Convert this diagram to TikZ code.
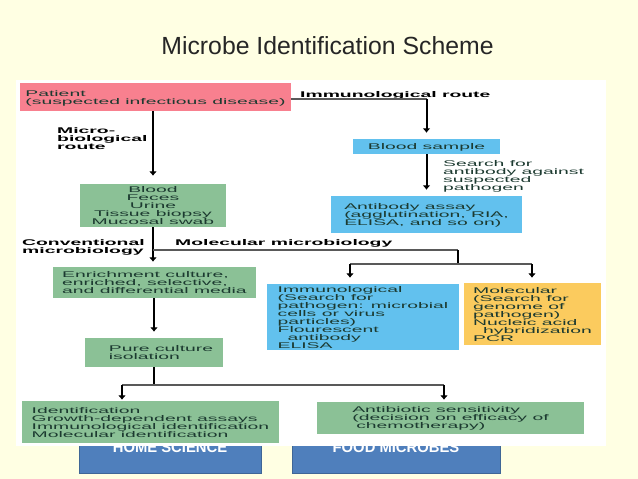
\documentclass[tikz,border=0pt]{standalone}
\usepackage{fontspec}
\setmainfont{Liberation Sans}
\newfontfamily\widefont[FakeStretch=2.33]{Liberation Sans}
\usetikzlibrary{arrows.meta}
\definecolor{slidecream}{HTML}{FFFFE3}
\definecolor{pinkfill}{HTML}{F8808F}
\definecolor{greenfill}{HTML}{8BC196}
\definecolor{bluefill}{HTML}{62C1EE}
\definecolor{yellowfill}{HTML}{FBCB5E}
\definecolor{slideblue}{HTML}{4F7FBC}
\definecolor{inktext}{HTML}{1C3A30}
\tikzset{
    boxnode/.style={inner sep=0pt,align=left,text=inktext,font=\widefont\fontsize{8.3}{8}\selectfont},
    pinkbox/.style={boxnode,fill=pinkfill},
    greenbox/.style={boxnode,fill=greenfill},
    bluebox/.style={boxnode,fill=bluefill},
    yellowbox/.style={boxnode,fill=yellowfill},
    tagnode/.style={inner sep=0pt,align=left,text=black,font=\widefont\bfseries\fontsize{8.3}{8}\selectfont},
    notenode/.style={inner sep=0pt,align=left,text=inktext,font=\widefont\fontsize{8.3}{8}\selectfont},
    slidebox/.style={fill=slideblue,draw=slideblue!80!black,line width=.8pt,inner sep=0pt},
    slidetext/.style={inner sep=0pt,text=white,font=\bfseries\fontsize{14.8}{15}\selectfont},
    flowline/.style={line width=2pt,black},
    flowarrow/.style={flowline,-{Latex[width=8pt,length=4.5pt]}},
    branchline/.style={line width=1.3pt,black!65},
}
\begin{document}
\begin{tikzpicture}[x=1pt,y=-1pt]
    \useasboundingbox (0,0) rectangle (638,479);
    \fill[slidecream] (0,0) rectangle (638,479);
    \node[inner sep=0pt,font=\fontsize{24.8}{26}\selectfont,text=black!85] (title) at (327.5,46) {Microbe Identification Scheme};
    % slide boxes behind the figure
    \node[slidebox,minimum width=182pt,minimum height=33pt] (home) at (170,456.5) {};
    \node[slidebox,minimum width=208pt,minimum height=33pt] (food) at (396,456.5) {};
    \node[slidetext] (hometext) at (170,447) {HOME SCIENCE};
    \node[slidetext] (foodtext) at (396,447) {FOOD MICROBES};
    \fill[white] (16,80) rectangle (606,446);
    % boxes
    \node[pinkbox,text depth=0pt,minimum width=271pt,minimum height=28pt] (patient) at (155.5,97) {Patient\\(suspected infectious disease)};
    \node[greenbox,minimum width=146pt,minimum height=43pt,align=center] (blood) at (153,205.5) {Blood\\Feces\\Urine\\Tissue biopsy\\Mucosal swab};
    \node[greenbox,minimum width=203pt,minimum height=31pt] (enrich) at (154.5,282.5) {Enrichment culture,\\enriched, selective,\\and differential media};
    \node[greenbox,minimum width=138pt,minimum height=29pt] (pure) at (154,352.5) {\hspace*{14pt}Pure culture\\\hspace*{14pt}isolation};
    \node[greenbox,text depth=-2pt,minimum width=257pt,minimum height=42pt] (ident) at (150.5,422) {Identification\\Growth-dependent assays\\Immunological identification\\Molecular identification};
    \node[greenbox,minimum width=267pt,minimum height=32pt] (sens) at (450.5,418) {Antibiotic sensitivity\\(decision on efficacy of\\\hspace*{4pt}chemotherapy)};
    \node[bluebox,text depth=-2.2pt,minimum width=147pt,minimum height=15pt] (sample) at (426.5,146.5) {Blood sample};
    \node[bluebox,text depth=-2.2pt,minimum width=191pt,minimum height=37pt] (assay) at (426.5,214.5) {Antibody assay\\(agglutination, RIA,\\ELISA, and so on)};
    \node[bluebox,text depth=-3pt,minimum width=192pt,minimum height=66pt] (immuno) at (363,317) {Immunological\\(Search for\\pathogen: microbial\\cells or virus\\particles)\\Flourescent\\\hspace*{10pt}antibody\\ELISA};
    \node[yellowbox,text depth=-2pt,minimum width=137pt,minimum height=62pt] (molec) at (532.5,314) {Molecular\\(Search for\\genome of\\pathogen)\\Nucleic acid\\\hspace*{10pt}hybridization\\PCR};
    % labels
    \node[tagnode,anchor=north west] (microtag) at (57,127) {Micro-\\biological\\route};
    \node[tagnode,anchor=west] (immunotag) at (300,95) {Immunological route};
    \node[tagnode,anchor=north west] (convtag) at (22,239) {Conventional\\microbiology};
    \node[tagnode,anchor=west] (moltag) at (175,243) {Molecular microbiology};
    \node[notenode,anchor=north west] (searchtag) at (443,160) {Search for\\antibody against\\suspected\\pathogen};
    % bends of the connectors
    \coordinate (patientout) at (291,99);
    \coordinate (immunobend) at (patientout -| sample.north);
    \coordinate (molsplit) at (blood.south |- 0,250);
    \coordinate (molbend) at (458,250);
    \coordinate (molfork) at (458,264);
    \coordinate (forkleft) at (350,264);
    \coordinate (forkright) at (532,264);
    \coordinate (puresplit) at (154,385);
    \coordinate (splitleft) at (122,385);
    \coordinate (splitright) at (444,385);
    % connectors
    \draw[flowarrow,shorten >=8pt] (patient.south -| blood.north) -- (blood.north);
    \draw[flowarrow,shorten >=5pt] (blood.south) -- (blood.south |- enrich.north);
    \draw[flowarrow,shorten >=6pt] (pure.north |- enrich.south) -- (pure.north);
    \draw[branchline] (patientout) -- (immunobend);
    \draw[flowarrow,shorten >=6pt] (immunobend) -- (sample.north);
    \draw[flowarrow,shorten >=6pt] (sample.south) -- (assay.north);
    \draw[branchline] (molsplit) -- (molbend);
    \draw[flowline] (molbend) -- (molfork);
    \draw[branchline] (forkleft) -- (forkright);
    \draw[flowarrow,shorten >=6pt] (forkleft) -- (forkleft |- immuno.north);
    \draw[flowarrow,shorten >=5pt] (forkright) -- (forkright |- molec.north);
    \draw[flowline] (pure.south) -- (puresplit);
    \draw[branchline] (splitleft) -- (splitright);
    \draw[flowarrow,shorten >=1pt] (splitleft) -- (splitleft |- ident.north);
    \draw[flowarrow,shorten >=2pt] (splitright) -- (splitright |- sens.north);
\end{tikzpicture}
\end{document}
